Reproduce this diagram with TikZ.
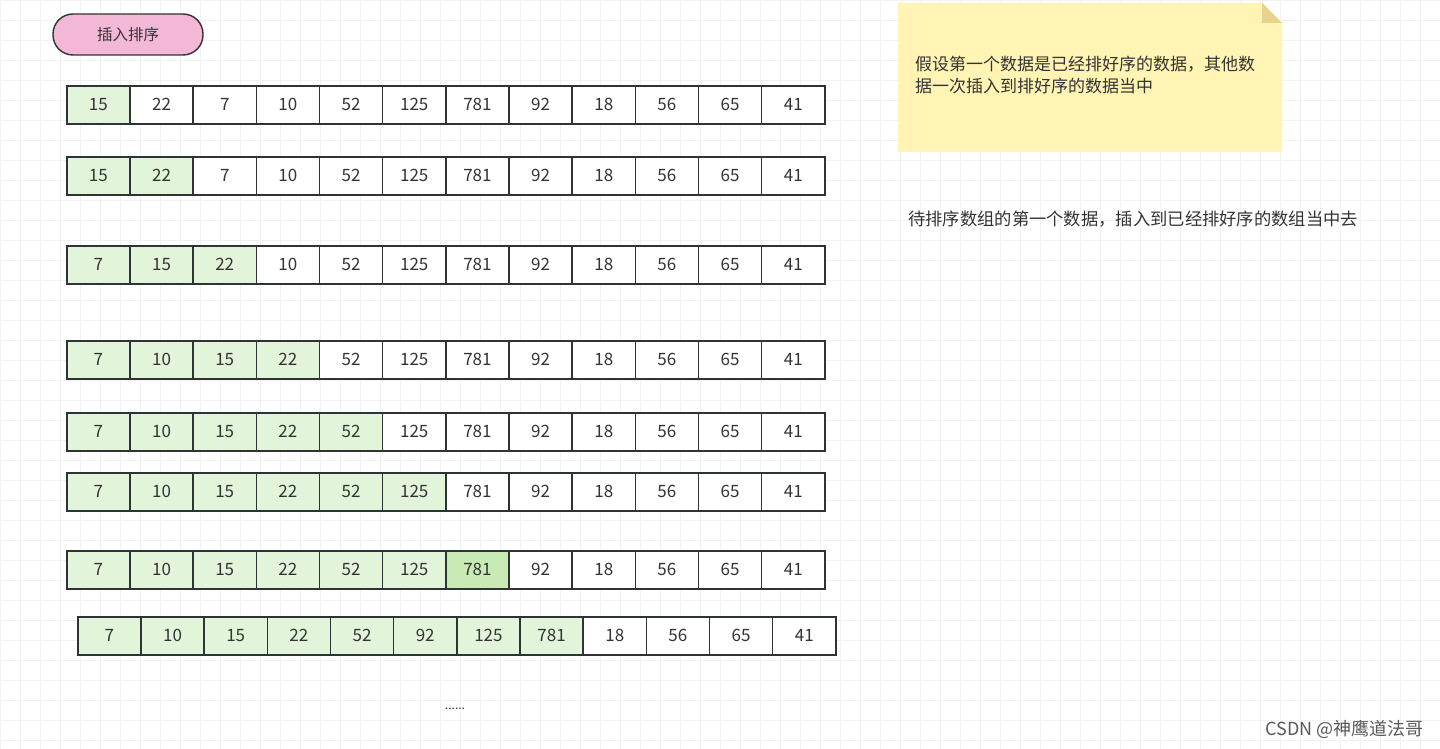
\documentclass[tikz,border=0pt]{standalone}
\usepackage{fontspec}
\setmainfont{Noto Sans CJK SC}
\definecolor{lg}{HTML}{E2F5DA}
\definecolor{dg}{HTML}{C9E9B5}
\definecolor{pk}{HTML}{F2B8D6}
\definecolor{yl}{HTML}{FFF4B3}
\definecolor{yf}{HTML}{E8D38C}
\definecolor{ln}{HTML}{2E3436}
\definecolor{tx}{HTML}{333333}
\begin{document}
\begin{tikzpicture}[x=1pt,y=-1pt,
  cell/.style={draw=ln,line width=1.6pt,minimum width=63.17pt,minimum height=38pt,inner sep=0pt,anchor=north west,font=\fontsize{17}{19}\selectfont,text=tx},
  w/.style={fill=white},g/.style={fill=lg},d/.style={fill=dg}]
\useasboundingbox (0,0) rectangle (1440,749);
\fill[white] (0,0) rectangle (1440,749);
\foreach \k in {0,20,...,1440} \draw[black!5,line width=0.6pt] (\k,0) -- (\k,749);
\foreach \k in {0,20,...,740} \draw[black!5,line width=0.6pt] (0,\k) -- (1440,\k);
\node[draw=ln,line width=1.4pt,fill=pk,rounded corners=20pt,minimum width=150pt,minimum height=41pt,text=tx,font=\fontsize{15.5}{17}\selectfont] (title) at (128,34.5) {插入排序};
\newcommand{\myrow}[4]{%
 \foreach \v/\f [count=\i] in {#4}
   \node[cell,\f] (r#1c\i) at ({#2+(\i-1)*63.17},#3) {\v};}
\myrow{1}{66}{85}{15/g,22/w,7/w,10/w,52/w,125/w,781/w,92/w,18/w,56/w,65/w,41/w}
\myrow{2}{66}{156}{15/g,22/g,7/w,10/w,52/w,125/w,781/w,92/w,18/w,56/w,65/w,41/w}
\myrow{3}{66}{245}{7/g,15/g,22/g,10/w,52/w,125/w,781/w,92/w,18/w,56/w,65/w,41/w}
\myrow{4}{66}{340}{7/g,10/g,15/g,22/g,52/w,125/w,781/w,92/w,18/w,56/w,65/w,41/w}
\myrow{5}{66}{412}{7/g,10/g,15/g,22/g,52/g,125/w,781/w,92/w,18/w,56/w,65/w,41/w}
\myrow{6}{66}{472}{7/g,10/g,15/g,22/g,52/g,125/g,781/w,92/w,18/w,56/w,65/w,41/w}
\myrow{7}{66}{550}{7/g,10/g,15/g,22/g,52/g,125/g,781/d,92/w,18/w,56/w,65/w,41/w}
\myrow{8}{77}{616}{7/g,10/g,15/g,22/g,52/g,92/g,125/g,781/g,18/w,56/w,65/w,41/w}
\node[font=\fontsize{12}{12}\selectfont,text=tx] (dots) at (455,709) {......};
\fill[yl] (898,3) -- (1262,3) -- (1282,23) -- (1282,152) -- (898,152) -- cycle;
\fill[yf] (1262,3) -- (1282,23) -- (1262,23) -- cycle;
\node[anchor=north west,align=left,text=tx,font=\fontsize{17}{22}\selectfont,inner sep=0pt] (note) at (915,56) {假设第一个数据是已经排好序的数据，其他数\\据一次插入到排好序的数据当中};
\node[anchor=west,text=tx,font=\fontsize{17.3}{19}\selectfont,inner sep=0pt] (desc) at (908,219) {待排序数组的第一个数据，插入到已经排好序的数组当中去};
\node[anchor=east,text=black!65,font=\fontsize{18}{20}\selectfont,inner sep=0pt] (wm) at (1424,729) {CSDN @神鹰道法哥};
\end{tikzpicture}
\end{document}
